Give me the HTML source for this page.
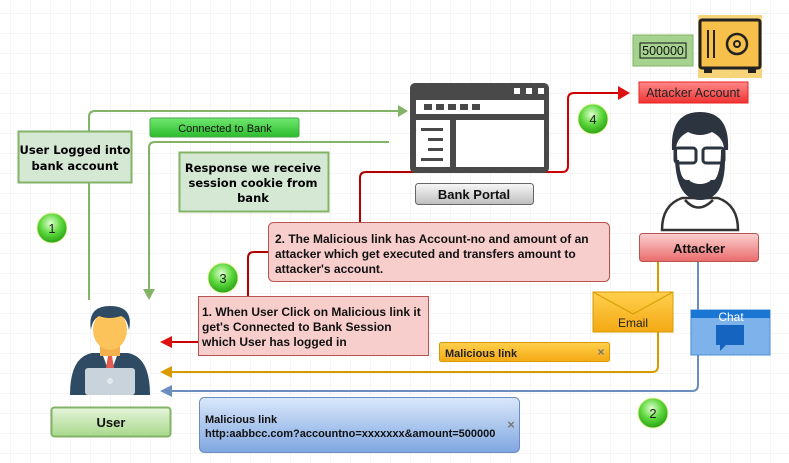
<!DOCTYPE html>
<html><head><meta charset="utf-8"><style>
html,body{margin:0;padding:0;background:#fff}
svg{display:block;font-family:"Liberation Sans",sans-serif}
</style></head><body>
<svg width="789" height="463" viewBox="0 0 789 463" xmlns="http://www.w3.org/2000/svg">
<defs>
<pattern id="g" width="20" height="20" patternUnits="userSpaceOnUse" x="10" y="13">
<path d="M20 0H0V20" fill="none" stroke="#ebebeb" stroke-width="1"/></pattern>
<linearGradient id="gg" x1="0" y1="0" x2="0" y2="1"><stop offset="0" stop-color="#6fe86f"/><stop offset="1" stop-color="#2cbb2c"/></linearGradient>
<linearGradient id="rg" x1="0" y1="0" x2="0" y2="1"><stop offset="0" stop-color="#f88"/><stop offset="1" stop-color="#e33"/></linearGradient>
<linearGradient id="rg2" x1="0" y1="0" x2="0" y2="1"><stop offset="0" stop-color="#fbd0d0"/><stop offset="1" stop-color="#ea6b6b"/></linearGradient>
<linearGradient id="grey" x1="0" y1="0" x2="0" y2="1"><stop offset="0" stop-color="#f8f8f8"/><stop offset="1" stop-color="#bdbdbd"/></linearGradient>
<linearGradient id="ug" x1="0" y1="0" x2="0" y2="1"><stop offset="0" stop-color="#e6f5dc"/><stop offset="1" stop-color="#a8d88a"/></linearGradient>
<linearGradient id="og" x1="0" y1="0" x2="0" y2="1"><stop offset="0" stop-color="#ffd04d"/><stop offset="1" stop-color="#f4a914"/></linearGradient>
<linearGradient id="bg" x1="0" y1="0" x2="0" y2="1"><stop offset="0" stop-color="#dbe8fb"/><stop offset="1" stop-color="#7ea6e0"/></linearGradient>
<radialGradient id="cg" cx="0.45" cy="0.35" r="0.7"><stop offset="0" stop-color="#dfffd0"/><stop offset="0.5" stop-color="#5dd83c"/><stop offset="1" stop-color="#1f9a10"/></radialGradient>
</defs>
<rect width="789" height="463" fill="url(#g)"/>

<path d="M89 300V117q0-6 6-6H400" fill="none" stroke="#82b366" stroke-width="2"/>
<path d="M398 105l10 6-10 6z" fill="#82b366"/>
<path d="M389 142H155q-6 0-6 6V292" fill="none" stroke="#82b366" stroke-width="2"/>
<path d="M143 289l6 11 6-11z" fill="#82b366"/>

<path d="M360 222V178q0-6 6-6H545" fill="none" stroke="#b20000" stroke-width="2"/>
<path d="M545 172h17q6 0 6-6V99q0-6 6-6H620" fill="none" stroke="#cc0000" stroke-width="2"/>
<path d="M618 86l12 7-12 7z" fill="#dd1111"/>
<path d="M248 296V258q0-6 6-6H268" fill="none" stroke="#b20000" stroke-width="2"/>
<path d="M198 342H170" fill="none" stroke="#cc0000" stroke-width="2"/>
<path d="M172 336l-12 6 12 6z" fill="#dd1111"/>

<path d="M658 262V366q0 6-6 6H170" fill="none" stroke="#d79b00" stroke-width="2"/>
<path d="M172 366l-12 6 12 6z" fill="#d79b00"/>
<path d="M698 262V385q0 6-6 6H170" fill="none" stroke="#6c8ebf" stroke-width="2"/>
<path d="M172 385l-12 6 12 6z" fill="#6c8ebf"/>

<rect x="18.5" y="131.5" width="113" height="51" fill="#d5e8d4" stroke="#82b366" stroke-width="2"/>
<g font-family="'DejaVu Sans',sans-serif" font-size="11.5" font-weight="bold" text-anchor="middle">
<text x="75" y="154">User Logged into</text>
<text x="75" y="170">bank account</text></g>

<rect x="150" y="118" width="149" height="19" rx="2" fill="url(#gg)" stroke="#4a4" />
<text x="225" y="132" font-size="11" text-anchor="middle" fill="#111">Connected to Bank</text>

<rect x="179.5" y="152.5" width="149" height="59" fill="#d5e8d4" stroke="#82b366" stroke-width="2"/>
<g font-family="'DejaVu Sans',sans-serif" font-size="11.5" font-weight="bold" text-anchor="middle">
<text x="253" y="172">Response we receive</text>
<text x="253" y="187">session cookie from</text>
<text x="253" y="202">bank</text></g>

<rect x="268.5" y="222.5" width="341" height="59" rx="5" fill="#f8cecc" stroke="#b85450"/>
<g font-size="12" font-weight="bold" fill="#111">
<text x="275" y="243">2. The Malicious link has Account-no and amount of an</text>
<text x="275" y="258">attacker which get executed and transfers amount to</text>
<text x="275" y="273">attacker's account.</text></g>

<rect x="198.5" y="296.5" width="230" height="59" fill="#f8cecc" stroke="#b85450"/>
<g font-size="12" font-weight="bold" fill="#111">
<text x="202" y="316">1. When User Click on Malicious link it</text>
<text x="202" y="331">get's Connected to Bank Session</text>
<text x="202" y="346">which User has logged in</text></g>

<g font-size="13" text-anchor="middle" fill="#222">
<circle cx="52" cy="228" r="15" fill="url(#cg)" stroke="#e8f0a0"/><text x="52" y="233">1</text>
<circle cx="223" cy="278" r="15" fill="url(#cg)" stroke="#e8f0a0"/><text x="223" y="283">3</text>
<circle cx="593" cy="119" r="15" fill="url(#cg)" stroke="#e8f0a0"/><text x="593" y="124">4</text>
<circle cx="653" cy="413" r="15" fill="url(#cg)" stroke="#e8f0a0"/><text x="653" y="418">2</text>
</g>

<rect x="410" y="83" width="139" height="90" rx="5" fill="#494949"/>
<rect x="416" y="100" width="128" height="14" fill="#fff"/>
<rect x="416" y="120" width="34" height="47" fill="#fff"/>
<rect x="456" y="120" width="88" height="47" fill="#fff"/>
<g fill="#fff"><rect x="514" y="88" width="6" height="6"/><rect x="526" y="88" width="6" height="6"/><rect x="538" y="88" width="6" height="6"/></g>
<g fill="#494949"><rect x="424" y="104" width="8" height="6"/><rect x="436" y="104" width="8" height="6"/><rect x="448" y="104" width="8" height="6"/><rect x="460" y="104" width="8" height="6"/><rect x="472" y="104" width="8" height="6"/>
<rect x="421" y="128" width="22" height="3"/><rect x="428" y="138" width="15" height="3"/><rect x="428" y="148" width="15" height="3"/><rect x="421" y="158" width="22" height="3"/></g>
<rect x="415.5" y="183.5" width="118" height="21" rx="3" fill="url(#grey)" stroke="#666"/>
<text x="474" y="199" font-size="13" font-weight="bold" text-anchor="middle" fill="#111">Bank Portal</text>

<rect x="698" y="15" width="64" height="63" fill="#f7d37a"/>
<rect x="700" y="20" width="60" height="48" rx="2" fill="#f7c04a" stroke="#222" stroke-width="3"/>
<rect x="704" y="68" width="8" height="5" fill="#222"/><rect x="748" y="68" width="8" height="5" fill="#222"/>
<path d="M708 30v28M714 30v28" stroke="#222" stroke-width="2"/>
<circle cx="737" cy="44" r="10" fill="none" stroke="#222" stroke-width="2.5"/><circle cx="737" cy="44" r="3" fill="none" stroke="#222" stroke-width="2"/>
<rect x="633" y="35" width="60" height="31" fill="#a5d38f" stroke="#82b366"/>
<rect x="640" y="43" width="46" height="15" fill="none" stroke="#111"/>
<text x="663" y="55" font-size="12.5" text-anchor="middle" fill="#111">500000</text>
<rect x="639" y="82" width="109" height="21" fill="url(#rg)" stroke="#e22"/>
<text x="693" y="97" font-size="12.5" text-anchor="middle" fill="#222">Attacker Account</text>

<g stroke="#333" stroke-width="2.5" fill="none">
<path d="M662 230q0-25 20-32h36q20 7 20 32z" fill="#fff"/>
<path d="M685 200q13 15 28 0" />
</g>
<path d="M672 150q-2-38 28-38q30 0 28 38l-4 0q0-12-12-18q-12 6-24 0q-12 6-12 18z" fill="#2c3440"/>
<path d="M676 150q0 40 23 40q23 0 23-40" fill="#fff" stroke="#333" stroke-width="2"/>
<path d="M675 160q2 40 25 40q25 0 25-40l-4 0q-2 20-8 20h-26q-7 0-8-20z" fill="#2c3440"/>
<rect x="675" y="148" width="21" height="15" rx="3" fill="none" stroke="#2c3440" stroke-width="3"/>
<rect x="703" y="148" width="21" height="15" rx="3" fill="none" stroke="#2c3440" stroke-width="3"/>
<path d="M690 180q10 6 20 0" stroke="#fff" stroke-width="2" fill="#fff"/>
<rect x="639.5" y="233.5" width="119" height="28" rx="3" fill="url(#rg2)" stroke="#b85450"/>
<text x="699" y="253" font-size="13" font-weight="bold" text-anchor="middle" fill="#111">Attacker</text>

<path d="M70 395q0-38 22-42h36q22 4 22 42z" fill="#2f4a63"/>
<path d="M102 353h16l-8 22z" fill="#fff"/>
<path d="M108 356h4l2 12-4 4-4-4z" fill="#e35d4f"/>
<rect x="100" y="340" width="20" height="16" fill="#f3b04d"/>
<ellipse cx="110" cy="330" rx="17" ry="20" fill="#fdc35b"/>
<path d="M91 330q-4-24 19-24q24 0 19 24q-2-12-8-14q-12 4-22 0q-7 4-8 14z" fill="#2f4a63"/>
<rect x="85" y="368" width="50" height="27" rx="3" fill="#c9d3dc"/>
<circle cx="110" cy="381" r="3" fill="#e4e9ee"/>
<rect x="51.5" y="407.5" width="119" height="29" rx="3" fill="url(#ug)" stroke="#82b366" stroke-width="2"/>
<text x="111" y="427" font-size="13" font-weight="bold" text-anchor="middle" fill="#111">User</text>

<rect x="593" y="292" width="80" height="40" fill="url(#og)" stroke="#d79b00"/>
<path d="M593 292l40 22 40-22" fill="none" stroke="#d79b00"/>
<text x="633" y="327" font-size="12" text-anchor="middle" fill="#222">Email</text>

<rect x="691" y="310" width="79" height="45" fill="#7db2ea" stroke="#4a90d9"/>
<rect x="691" y="310" width="79" height="8" fill="#1976d2"/>
<text x="731" y="321" font-size="12" text-anchor="middle" fill="#fff">Chat</text>
<path d="M716 325h28v20h-18l-6 6v-6h-4z" fill="#1565c0"/>

<rect x="439.5" y="342.5" width="170" height="19" rx="2" fill="url(#og)" stroke="#d79b00"/>
<text x="445" y="357" font-size="11" font-weight="bold" fill="#222">Malicious link</text>
<text x="601" y="356" font-size="12" font-weight="bold" text-anchor="middle" fill="#777">×</text>

<rect x="199.5" y="397.5" width="320" height="55" rx="5" fill="url(#bg)" stroke="#6c8ebf"/>
<text x="205" y="423" font-size="11" font-weight="bold" fill="#111">Malicious link</text>
<text x="205" y="437" font-size="11" font-weight="bold" fill="#111">http:aabbcc.com?accountno=xxxxxxx&amp;amount=500000</text>
<text x="511" y="429" font-size="13" font-weight="bold" text-anchor="middle" fill="#777">×</text>
</svg>
</body></html>
